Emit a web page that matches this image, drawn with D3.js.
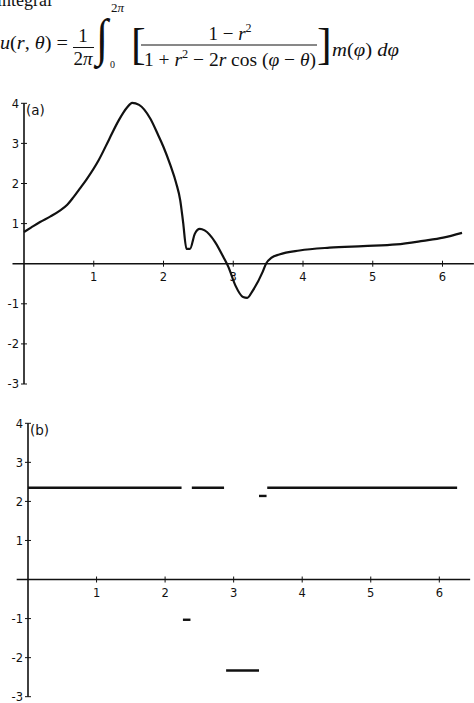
<!DOCTYPE html>
<html><head><meta charset="utf-8">
<script src="https://cdn.jsdelivr.net/npm/d3@7/dist/d3.min.js"></script>
<style>body{margin:0;background:#fff}svg{display:block}</style>
</head><body>
<svg id="c" width="474" height="703"></svg>
<script>
// ---- data ----
const curveX = [0,0.1,0.23,0.38,0.52,0.62,0.71,0.80,0.90,1.07,1.22,1.36,1.48,1.55,1.65,1.81,1.92,2.0,2.10,2.18,2.24,2.28,2.33,2.38,2.45,2.52,2.59,2.74,2.86,2.93,3.03,3.14,3.20,3.28,3.42,3.47,3.55,3.66,3.95,4.38,4.86,5.34,5.72,6.01,6.28];
const curveY = [0.79,0.90,1.04,1.18,1.33,1.47,1.66,1.87,2.11,2.58,3.10,3.58,3.90,4.01,3.96,3.62,3.22,2.91,2.45,2.02,1.58,1.05,0.37,0.37,0.75,0.87,0.83,0.54,0.16,-0.08,-0.54,-0.83,-0.85,-0.67,-0.21,0.0,0.15,0.23,0.33,0.40,0.44,0.48,0.57,0.65,0.77];
const segStart = [0.0, 2.39, 3.49, 3.37, 2.26, 2.89];
const segEnd   = [2.24, 2.86, 6.26, 3.48, 2.37, 3.37];
const segValue = [2.35, 2.35, 2.35, 2.14, -1.03, -2.33];
const xTicks = [1,2,3,4,5,6];
const yTicks = [-3,-2,-1,1,2,3,4];

const svg = d3.select("#c");
const ink = "#111";

// ---- formula header ----
const serif = "'Liberation Serif','DejaVu Serif',serif";
const FS = 19;
function T(x,y,opt={}){
  const t = svg.append("text").attr("x",x).attr("y",y)
    .attr("font-family",serif).attr("font-size",opt.size||FS).attr("fill",ink)
    .attr("text-anchor",opt.anchor||"start");
  if(opt.len) t.attr("textLength",opt.len).attr("lengthAdjust","spacingAndGlyphs");
  return t;
}
function parts(t, arr){
  arr.forEach(p=>{
    const s = t.append("tspan").text(p[0]);
    if(p[1]==="i") s.attr("font-style","italic");
    if(p[1]==="sup") s.attr("font-size",12).attr("dy",-8);
    if(p[1]==="unsup") s.attr("dy",8);
  });
  return t;
}
T(-3,6,{size:18}).text("integral");
parts(T(0,49,{len:68}), [["u","i"],["("],["r","i"],[", "],["θ","i"],[") ="]]);
T(83,42,{anchor:"middle"}).text("1");
svg.append("line").attr("x1",73).attr("x2",94).attr("y1",47.5).attr("y2",47.5).attr("stroke",ink).attr("stroke-width",1);
parts(T(83,65,{anchor:"middle"}), [["2"],["π","i"]]);
// integral sign
T(96,55,{size:52,len:12}).text("∫");
parts(T(111,12,{size:13}), [["2"],["π","i"]]);
T(110,68,{size:10}).text("0");
// brackets
T(131,59,{size:44}).text("[");
T(317,59,{size:44}).text("]");
// numerator
parts(T(230,40,{anchor:"middle"}), [["1 − "],["r","i"],["2","sup"]]);
svg.append("line").attr("x1",141).attr("x2",317).attr("y1",45).attr("y2",45).attr("stroke",ink).attr("stroke-width",1);
// denominator
parts(T(144,66,{len:172}), [["1 + "],["r","i"],["2","sup"],[" − 2","unsup"],["r","i"],[" cos ("],["φ","i"],[" − "],["θ","i"],[")"]]);
// m(φ) dφ
parts(T(332,56,{len:67}), [["m","i"],["("],["φ","i"],[") "],["d","i"],["φ","i"]]);

// ---- panels ----
const tickFont = "'DejaVu Sans','Liberation Sans',sans-serif";
function panel(x, y, label){
  const g = svg.append("g");
  g.append("line").attr("x1",x(-0.165)).attr("x2",x(6.45)).attr("y1",y(0)).attr("y2",y(0))
    .attr("stroke",ink).attr("stroke-width",1.6);
  g.append("line").attr("x1",x(0)).attr("x2",x(0)).attr("y1",y(4)).attr("y2",y(-3))
    .attr("stroke",ink).attr("stroke-width",1.6);
  xTicks.forEach(v=>{
    g.append("line").attr("x1",x(v)).attr("x2",x(v)).attr("y1",y(0)-3).attr("y2",y(0)+3).attr("stroke",ink).attr("stroke-width",1);
    g.append("text").attr("x",x(v)).attr("y",y(0)+17).attr("text-anchor","middle")
      .attr("font-family",tickFont).attr("font-size",11.5).attr("fill",ink).text(v);
  });
  yTicks.forEach(v=>{
    g.append("line").attr("x1",x(0)-3).attr("x2",x(0)+3).attr("y1",y(v)).attr("y2",y(v)).attr("stroke",ink).attr("stroke-width",1);
    g.append("text").attr("x",x(0)-5).attr("y",y(v)).attr("dy","0.38em").attr("text-anchor","end")
      .attr("font-family",tickFont).attr("font-size",11.5).attr("fill",ink).text(v<0?"-"+(-v):v);
  });
  g.append("text").attr("x",x(0)+2).attr("y",y(4)+12).attr("font-family",tickFont).attr("font-size",13.5).attr("fill",ink).text(label);
  return g;
}

// panel (a)
const xA = d3.scaleLinear().domain([0,6]).range([24,442.5]);
const yA = d3.scaleLinear().domain([-3,4]).range([384,103.3]);
const gA = panel(xA, yA, "(a)");
const pts = curveX.map((d,i)=>[d,curveY[i]]);
gA.append("path").datum(pts)
  .attr("d", d3.line().x(d=>xA(d[0])).y(d=>yA(d[1])).curve(d3.curveMonotoneX))
  .attr("fill","none").attr("stroke",ink).attr("stroke-width",2.2).attr("stroke-linejoin","round");

// panel (b)
const xB = d3.scaleLinear().domain([0,6]).range([28,439.3]);
const yB = d3.scaleLinear().domain([-3,4]).range([696.7,423.3]);
const gB = panel(xB, yB, "(b)");
gB.selectAll("line.seg").data(segStart.map((s,i)=>({s, e:segEnd[i], v:segValue[i]})))
  .enter().append("line").attr("class","seg")
  .attr("x1",d=>xB(d.s)).attr("x2",d=>xB(d.e)).attr("y1",d=>yB(d.v)).attr("y2",d=>yB(d.v))
  .attr("stroke",ink).attr("stroke-width",2.4);
</script>
</body></html>
